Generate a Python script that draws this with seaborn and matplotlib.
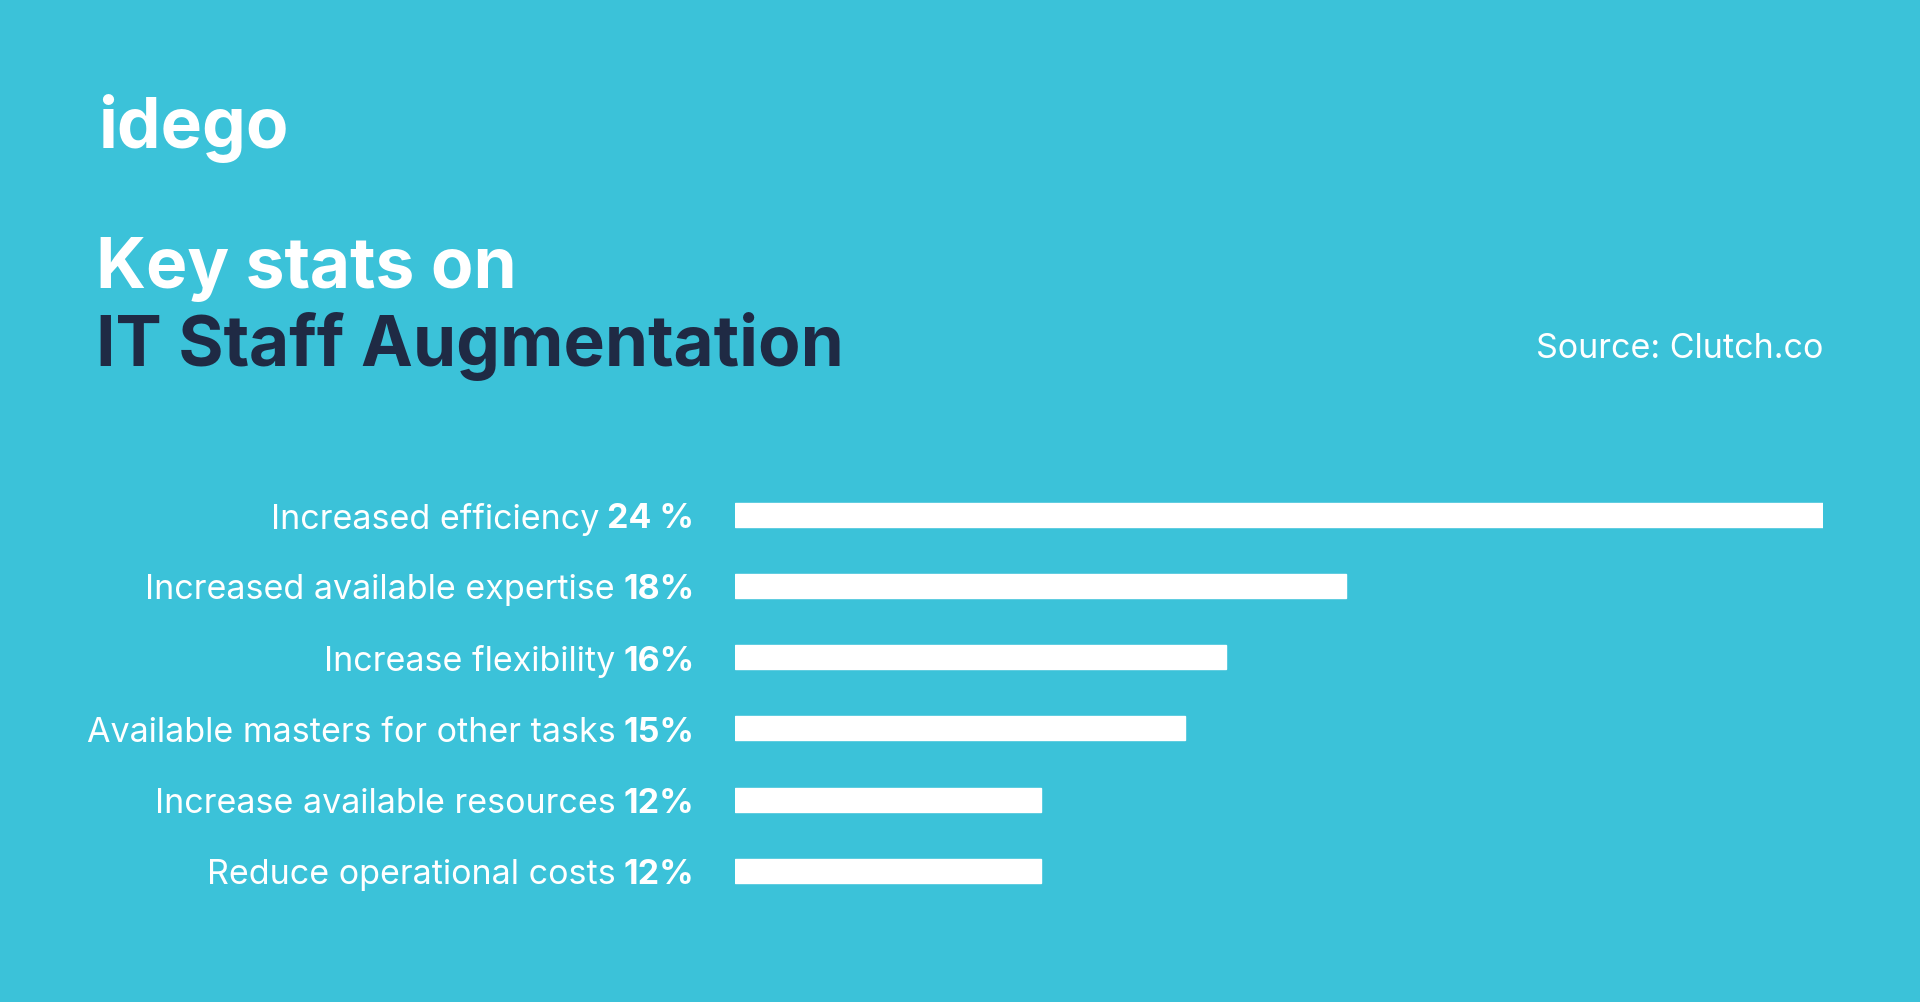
import matplotlib
matplotlib.use("Agg")
import matplotlib.pyplot as plt
import seaborn as sns
import pandas as pd

categories = ["Increased efficiency", "Increased available expertise", "Increase flexibility",
              "Available masters for other tasks", "Increase available resources", "Reduce operational costs"]
value_labels = ["24 %", "18%", "16%", "15%", "12%", "12%"]
bar_lengths = [889, 499, 401, 368, 250, 250]  # bar lengths as drawn in the picture

BG = "#3BC2D9"
DARK = "#1F2A44"
sns.set_theme(style="white")
plt.rcParams['font.family'] = ['Inter', 'DejaVu Sans']

fig = plt.figure(figsize=(19.2, 10.03), dpi=100, facecolor=BG)
ax = fig.add_axes([600/1568, 1-741/819, 889/1568, 349/819])
ax.set_facecolor(BG)
df = pd.DataFrame({"cat": categories, "len": bar_lengths})
sns.barplot(data=df, x="len", y="cat", color="white", width=0.34, ax=ax, saturation=1)
ax.set_xlim(0, 889)
ax.set_ylim(5.5, -0.5)
ax.axis("off")

fig.canvas.draw()
r = fig.canvas.get_renderer()
inv = ax.transData.inverted()
for i, (c, v) in enumerate(zip(categories, value_labels)):
    t = ax.text(-33, i + 0.05, v, ha="right", va="center", color="white", fontsize=24.5, fontweight="bold")
    bb = t.get_window_extent(r)
    x0 = inv.transform((bb.x0 - 8, 0))[0]
    ax.text(x0, i + 0.05, c, ha="right", va="center", color="white", fontsize=24.5)

fig.text(80/1568, 1-105/819, "idego", color="white", fontsize=50, fontweight="bold", va="center", ha="left")
fig.text(78/1568, 1-220/819, "Key stats on", color="white", fontsize=50, fontweight="bold", va="center", ha="left")
fig.text(78/1568, 1-283/819, "IT Staff Augmentation", color=DARK, fontsize=50, fontweight="bold", va="center", ha="left")
fig.text(1489/1568, 1-285/819, "Source: Clutch.co", color="white", fontsize=24.5, va="center", ha="right")

fig.savefig("out.png", dpi=100, facecolor=BG)
